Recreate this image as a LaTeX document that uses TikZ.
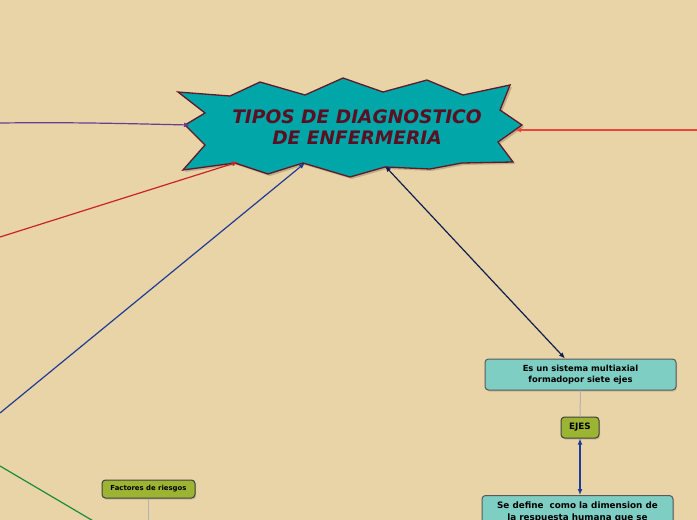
\documentclass[tikz,border=0pt]{standalone}
\usepackage{fontspec}
\setmainfont{DejaVu Sans}
\usetikzlibrary{arrows.meta,shadows}
\definecolor{bg}{RGB}{233,212,167}
\definecolor{starfill}{RGB}{0,166,168}
\definecolor{starline}{RGB}{95,25,40}
\definecolor{titlecol}{RGB}{90,15,35}
\definecolor{boxfill}{RGB}{127,206,196}
\definecolor{olive}{RGB}{155,180,50}
\definecolor{cpurple}{RGB}{106,60,150}
\definecolor{cred}{RGB}{200,35,40}
\definecolor{credlight}{RGB}{232,72,60}
\definecolor{cblue}{RGB}{30,60,150}
\definecolor{cnavy}{RGB}{15,30,80}
\definecolor{cgreen}{RGB}{25,140,60}
\begin{document}
\begin{tikzpicture}[x=1pt,y=-1pt,
  conn/.style={line width=1.2pt,-{Latex[length=6pt,width=5pt]}},
  dconn/.style={line width=1.2pt,{Latex[length=6pt,width=5pt]}-{Latex[length=6pt,width=5pt]}},
  infobox/.style={draw=black!65,line width=1pt,fill=boxfill,rounded corners=3.5pt,
    minimum width=191pt,align=center,
    drop shadow={shadow xshift=1pt,shadow yshift=-1.5pt,opacity=.3}},
  tagbox/.style={draw=black!75,line width=1pt,fill=olive,rounded corners=3.5pt,
    align=center,font=\bfseries,
    drop shadow={shadow xshift=1pt,shadow yshift=-1.5pt,opacity=.3}},
  thin/.style={draw=black!30,line width=1pt}]
\useasboundingbox[fill=bg] (0,0) rectangle (697,520);
% star
\fill[black,opacity=.18] (180,94)--(232,98)--(262,84)--(307,97)--(345,80)--(385,94)--(429,82)--(465,97)--(512,87)--(502,112)--(524,127)--(500,144)--(515,164)--(464,165)--(432,171)--(387,169)--(352,179)--(305,165)--(270,176)--(237,165)--(185,172)--(207,147)--(187,127)--(207,115)--cycle;
\filldraw[fill=starfill,draw=starline,line width=1.3pt,line join=miter]
 (178,92)--(230,96)--(260,82)--(305,95)--(343,78)--(383,92)--(427,80)--(463,95)--(510,85)--(500,110)--(522,125)--(498,142)--(513,162)--(462,163)--(430,169)--(385,167)--(350,177)--(303,163)--(268,174)--(235,163)--(183,170)--(205,145)--(185,125)--(205,113)--cycle;
\node[font=\fontsize{18.6}{21}\selectfont\bfseries\itshape,text=titlecol,align=center] (title) at (357,127) {TIPOS DE DIAGNOSTICO\\DE ENFERMERIA};
% attachment points on star
\coordinate (sLeft) at (190,125);
\coordinate (sBL) at (238,162);
\coordinate (sBot) at (305,163);
\coordinate (sBR) at (385,166);
\coordinate (sRight) at (515,130);
% free ends
\coordinate (fPurple) at (0,123);
\coordinate (fRed) at (0,237);
\coordinate (fRight) at (697,130);
\coordinate (fBlue) at (0,413);
\coordinate (fGreenA) at (0,466);
\coordinate (fGreenB) at (95,522);
% boxes
\node[infobox,minimum height=31pt,font=\fontsize{8.4}{11.5}\selectfont\bfseries] (multi) at (580.5,374.5) {Es un sistema multiaxial\\formadopor siete ejes};
\node[tagbox,minimum height=21pt,minimum width=38pt,font=\fontsize{8.8}{10}\selectfont\bfseries] (ejes) at (580,427.5) {EJES};
\node[infobox,anchor=north,inner ysep=6pt,font=\fontsize{8.8}{12}\selectfont\bfseries] (define) at (577.5,495) {Se define\ \ como la dimension de\\la respuesta humana que se};
\node[tagbox,minimum height=18pt,minimum width=93pt,font=\fontsize{6.9}{8}\selectfont\bfseries] (factores) at (148.5,489) {Factores de riesgos};
\coordinate (fFact) at (148.5,522);
% connectors
\draw[conn,cpurple] (fPurple) .. controls (80,122) and (140,124) .. (sLeft);
\draw[conn,cred] (fRed) -- (sBL);
\draw[conn,credlight] (fRight) -- (sRight);
\draw[conn,cblue] (fBlue) -- (sBot);
\draw[dconn,cnavy] (sBR) -- (multi.north -| 565,0);
\draw[line width=1.2pt,cgreen] (fGreenA) -- (fGreenB);
\draw[thin] (multi.south) -- (ejes.north);
\draw[dconn,cblue] (ejes.south) -- (define.north -| ejes.south);
\draw[thin] (factores.south) -- (fFact);
\end{tikzpicture}
\end{document}
